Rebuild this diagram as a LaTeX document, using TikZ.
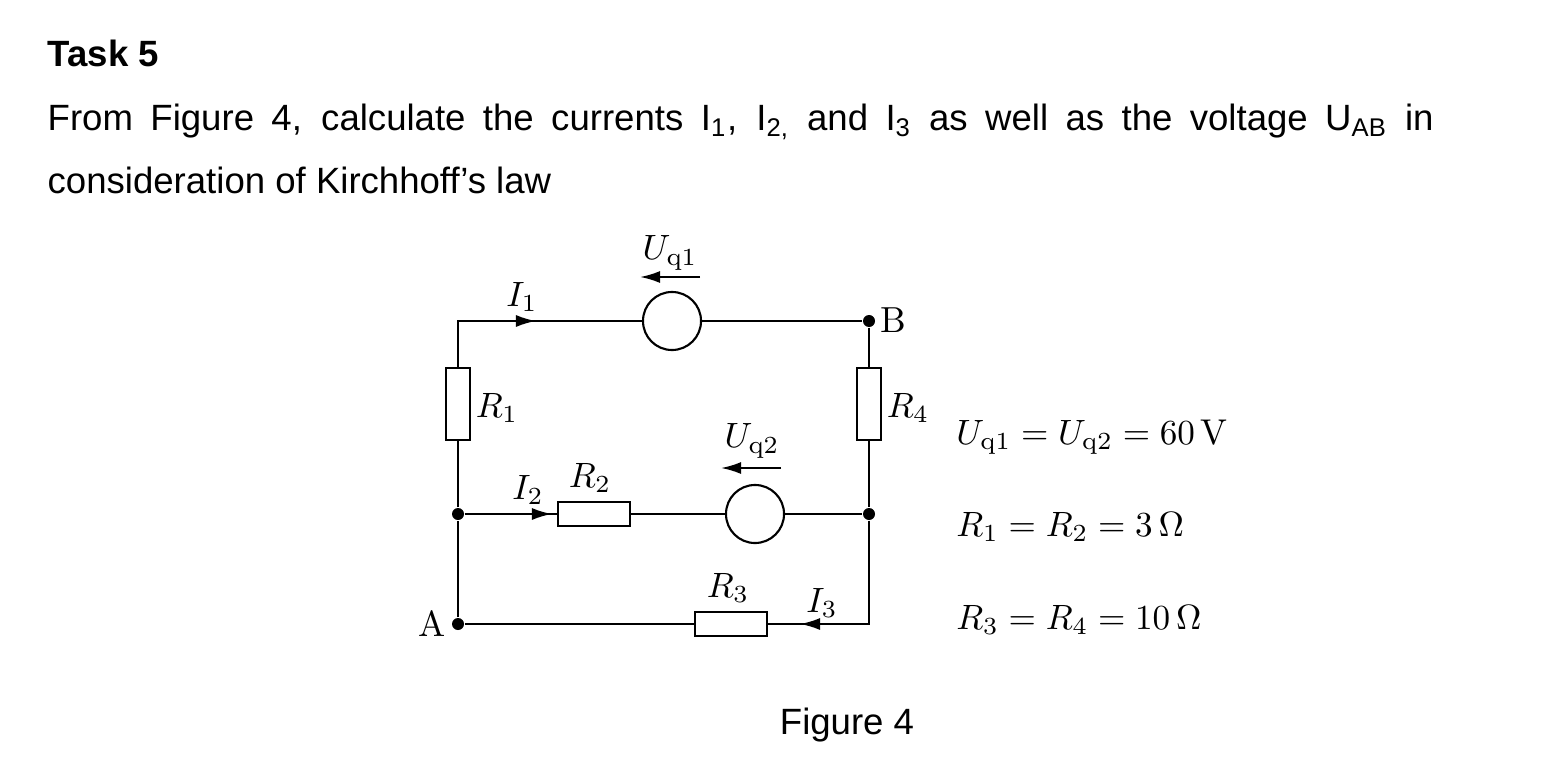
\documentclass[tikz,border=0pt]{standalone}
\usepackage{fontspec}
\setmainfont{Liberation Sans}
\setmathrm{Latin Modern Roman}
\newfontfamily\lmr{Latin Modern Roman}
\usetikzlibrary{arrows.meta}
\begin{document}
\begin{tikzpicture}[x=0.01cm,y=-0.01cm,
  wire/.style={line width=0.6pt},
  res/.style={draw,line width=0.6pt,fill=white,minimum width=0.72cm,minimum height=0.24cm,inner sep=0},
  resv/.style={res,minimum width=0.24cm,minimum height=0.72cm},
  src/.style={draw,line width=0.6pt,fill=white,circle,minimum size=0.58cm,inner sep=0},
  dot/.style={circle,fill=black,minimum size=0.12cm,inner sep=0},
  lab/.style={font=\lmr\fontsize{10.3}{10.3}\selectfont},
  eq/.style={font=\lmr\fontsize{10.2}{10.2}\selectfont,anchor=west},
  txt/.style={font=\fontsize{10.4}{13}\selectfont,anchor=base west,inner sep=0},
  tip/.style={-{Latex[length=0.2cm,width=0.12cm]},line width=0.6pt}]
\useasboundingbox (0,0) rectangle (1564,770);
\node[txt,font=\bfseries\fontsize{10.4}{13}\selectfont] (title) at (47,67) {Task 5};
\node[txt] (l1) at (47,131) {\makebox[13.85cm][s]{From Figure 4, calculate the currents I\textsubscript{1}, I\textsubscript{2,} and I\textsubscript{3} as well as the voltage U\textsubscript{AB} in}};
\node[txt] (l2) at (47,194) {consideration of Kirchhoff’s law};
\node[txt,anchor=base] (cap) at (847,734) {Figure 4};
% nodes
\coordinate (TL) at (458,321);
\node[dot] (B) at (869,321) {};
\node[dot] (ML) at (458,514) {};
\node[dot] (MR) at (869,514) {};
\node[dot] (A) at (458,624) {};
\coordinate (BR) at (869,624);
\node[resv] (R1) at (458,404) {};
\node[resv] (R4) at (869,404) {};
\node[res] (R2) at (594,514) {};
\node[res] (R3) at (731,624) {};
\node[src] (U1) at (672,321) {};
\node[src] (U2) at (755,514) {};
% wires
\draw[wire] (R1) -- (TL) -- (U1) -- (B) -- (R4) -- (MR) -- (BR) -- (R3) -- (A) -- (ML) -- (R1);
\draw[wire] (ML) -- (R2) -- (U2) -- (MR);
% current arrows
\coordinate (i1a) at (500,321); \coordinate (i1b) at (536,321);
\draw[tip] (i1a) -- (i1b);
\coordinate (i2a) at (510,514); \coordinate (i2b) at (552,514);
\draw[tip] (i2a) -- (i2b);
\coordinate (i3a) at (830,624); \coordinate (i3b) at (800,624);
\draw[tip] (i3a) -- (i3b);
% voltage arrows
\coordinate (v1a) at (700,277); \coordinate (v1b) at (640,277);
\draw[tip] (v1a) -- (v1b);
\coordinate (v2a) at (781,468); \coordinate (v2b) at (721,468);
\draw[tip] (v2a) -- (v2b);
% labels
\node[lab] (Lu1) at (670,253) {$U_{\mathrm{q}1}$};
\node[lab] (Lu2) at (752,441) {$U_{\mathrm{q}2}$};
\node[lab] (Li1) at (522,297) {$I_1$};
\node[lab] (Li2) at (528,490) {$I_2$};
\node[lab] (Li3) at (822,603) {$I_3$};
\node[lab] (LR1) at (497,408) {$R_1$};
\node[lab] (LR4) at (908,408) {$R_4$};
\node[lab] (LR2) at (590,478) {$R_2$};
\node[lab] (LR3) at (728,588) {$R_3$};
\node[lab] (LB) at (893,320) {B};
\node[lab] (LA) at (432,624) {A};
\node[eq] (e1) at (944,437) {$U_{\mathrm{q}1}=U_{\mathrm{q}2}=60\,\mathrm{V}$};
\node[eq] (e2) at (944,527) {$R_1=R_2=3\,\Omega$};
\node[eq] (e3) at (944,620) {$R_3=R_4=10\,\Omega$};
\end{tikzpicture}
\end{document}
